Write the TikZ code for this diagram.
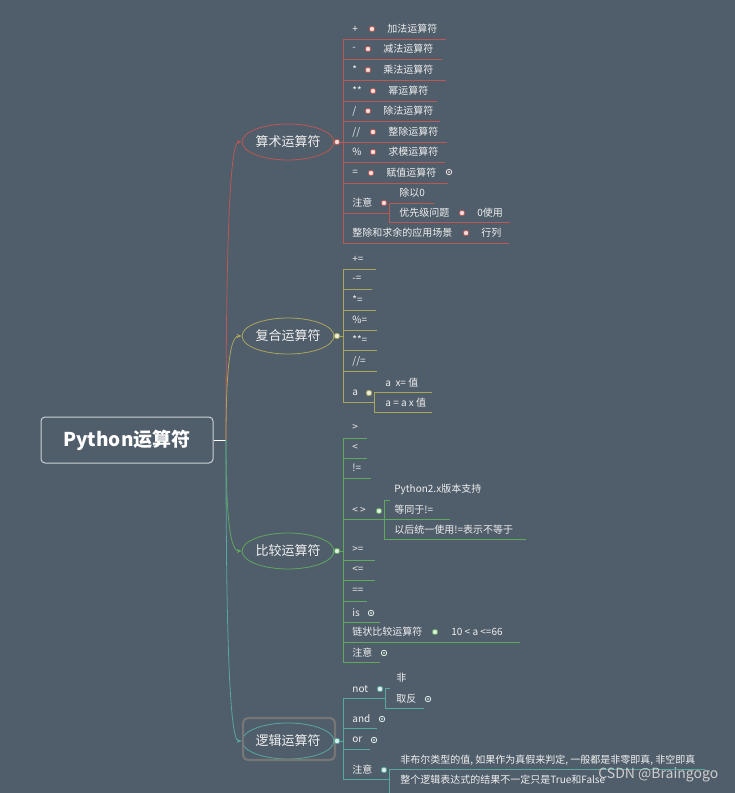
\documentclass[tikz,border=0pt]{standalone}
\usepackage{fontspec}
\setmainfont{Noto Sans CJK SC}
\usetikzlibrary{arrows.meta,shapes.geometric}
\definecolor{bg}{RGB}{80,93,106}
\definecolor{arith}{RGB}{186,88,84}
\definecolor{comp}{RGB}{168,166,92}
\definecolor{cmpr}{RGB}{96,168,96}
\definecolor{logic}{RGB}{88,168,158}
\definecolor{txt}{RGB}{240,240,240}
\definecolor{rootc}{RGB}{205,210,215}
\definecolor{selc}{RGB}{118,118,118}
\definecolor{wm}{RGB}{205,205,205}
\begin{document}
\begin{tikzpicture}[x=1pt,y=-1pt,line width=.8pt,
  leaf/.style={anchor=west,inner sep=0pt,text=txt,font=\fontsize{10}{12}\selectfont},
  dot/.style={circle,draw=#1,fill=white!80!#1,minimum size=5.5pt,inner sep=0pt},
  fold/.style={circle,draw=white!80!#1,fill=bg,minimum size=5.5pt,inner sep=0pt,
    path picture={\fill[white] (path picture bounding box.center) circle (.9pt);}},
  topic/.style={ellipse,draw=#1,minimum width=86pt,minimum height=36pt,inner sep=0pt,
    text=txt,font=\fontsize{13}{15}\selectfont},
  link/.style={draw=#1,-{Stealth[length=5pt,width=4pt]}}]
\fill[bg](0,0)rectangle(735,793);
\useasboundingbox(0,0)rectangle(735,793);
% root and main topics
\node[draw=rootc,rounded corners=4pt,minimum width=172pt,minimum height=46pt,text=white,
  font=\fontsize{19}{21}\selectfont\bfseries,line width=1pt](root)at(127,440){Python运算符};
\coordinate(hub)at(226,440);
\draw[white](root.east)--(hub);
\node[topic=arith](ar)at(288,142){算术运算符};
\node[topic=comp](co)at(288,336){复合运算符};
\node[topic=cmpr](cm)at(288,551){比较运算符};
\node[topic=logic](lo)at(288,741){逻辑运算符};
\draw[selc,line width=2.2pt,rounded corners=5pt](243,718)rectangle(335,760);
\foreach\t/\c/\y in{ar/arith/142,co/comp/336,cm/cmpr/551,lo/logic/741}{
  \draw[link=\c](hub)..controls(226,{(440+\y)/2})and(228,\y)..(\t.west);
  \node[dot=\c](\t-d)at(337,\y){};
  \draw[draw=\c](\t-d.east)--(343,\y);}
% arithmetic
\draw[arith](343,39)--(343,243);
\foreach\i/\lab/\uy/\dx/\sub/\ex in{1/+/39/372/加法运算符/446,2/-/59/368/减法运算符/442,
  3/*/80/368/乘法运算符/446,4/**/101/373/幂运算符/437,5/{/}/121/368/除法运算符/440,
  6/{//}/142/373/整除运算符/447,7/\%/162/373/求模运算符/445,8/=/183/371/赋值运算符/448}{
  \node[leaf](a\i)at(352,\uy-10){\lab};
  \node[dot=arith](a\i-d)at(\dx,\uy-10){};
  \node[leaf](a\i-s)at(\dx+15,\uy-10){\sub};
  \draw[arith](343,\uy)--(\ex,\uy);}
\node[fold=arith](a8-f)at(449,172){};
\node[leaf](a9)at(352,203){注意};
\node[dot=arith](a9-d)at(384,203){};
\draw[arith](343,213)--(389,213) (389,203)--(389,222) (389,203)--(434,203) (389,222)--(510,222);
\node[leaf](a9-a)at(399,193){除以0};
\node[leaf](a9-b)at(399,213){优先级问题};
\node[dot=arith](a9-bd)at(462,213){};
\node[leaf](a9-c)at(477,213){0使用};
\node[leaf](a10)at(352,233){整除和求余的应用场景};
\node[dot=arith](a10-d)at(466,233){};
\node[leaf](a10-s)at(481,233){行列};
\draw[arith](343,243)--(509,243);
% compound
\draw[comp](343,269)--(343,402);
\foreach\i/\lab/\uy/\ex in{1/+=/269/376,2/-=/289/372,3/*=/310/376,4/\%=/330/377,
  5/**=/350/377,6/{//=}/371/377}{
  \node[leaf](c\i)at(352,\uy-10){\lab};
  \draw[comp](343,\uy)--(\ex,\uy);}
\node[leaf](c7)at(352,393){a};
\node[dot=comp](c7-d)at(369,393){};
\draw[comp](343,402)--(374,402) (374,392)--(374,412) (374,392)--(432,392) (374,412)--(432,412);
\node[leaf](c7-a)at(385,383){a~ x= 值};
\node[leaf](c7-b)at(385,403){a = a x 值};
% comparison
\draw[cmpr](343,438)--(343,662);
\foreach\i/\lab/\uy/\ex in{1/>/438/367,2/</458/367,3/!=/478/371,5/>=/560/375,
  6/<=/580/375,7/==/601/367}{
  \node[leaf](p\i)at(352,\uy-10){\lab};
  \draw[cmpr](343,\uy)--(\ex,\uy);}
\node[leaf](p4)at(352,511){< >};
\node[dot=cmpr](p4-d)at(379,511){};
\draw[cmpr](343,519)--(450,519) (384,500)--(384,539) (384,500)--(390,500) (384,539)--(526,539);
\node[leaf](p4-a)at(394,489){Python2.x版本支持};
\node[leaf](p4-b)at(394,510){等同于!=};
\node[leaf](p4-c)at(394,530){以后统一使用!=表示不等于};
\node[leaf](p8)at(352,613){is};
\node[fold=cmpr](p8-f)at(371,613){};
\draw[cmpr](343,622)--(380,622);
\node[leaf](p9)at(352,632){链状比较运算符};
\node[dot=cmpr](p9-d)at(435,632){};
\node[leaf](p9-s)at(451,632){10 < a <=66};
\draw[cmpr](343,642)--(520,642);
\node[leaf](p10)at(352,653){注意};
\node[fold=cmpr](p10-f)at(384,653){};
\draw[cmpr](343,662)--(380,662);
% logic
\draw[logic](343,698)--(343,779);
\node[leaf](l1)at(352,689){not};
\node[dot=logic](l1-d)at(380,689){};
\draw[logic](343,698)--(385,698) (385,688)--(385,708) (385,688)--(390,688) (385,708)--(424,708);
\node[leaf](l1-a)at(396,678){非};
\node[leaf](l1-b)at(396,699){取反};
\node[fold=logic](l1-f)at(428,699){};
\node[leaf](l2)at(352,719){and};
\node[fold=logic](l2-f)at(382,719){};
\draw[logic](343,728)--(377,728);
\node[leaf](l3)at(352,740){or};
\node[fold=logic](l3-f)at(374,740){};
\draw[logic](343,749)--(370,749);
\node[leaf](l4)at(352,770){注意};
\node[dot=logic](l4-d)at(384,770){};
\draw[logic](343,779)--(389,779) (389,769)--(389,793) (389,769)--(705,769);
\node[leaf](l4-a)at(400,760){非布尔类型的值, 如果作为真假来判定, 一般都是非零即真, 非空即真};
\node[leaf](l4-b)at(400,780){整个逻辑表达式的结果不一定只是True和False};
\node[anchor=west,inner sep=0pt,text=wm,font=\fontsize{14}{16}\selectfont](mark)at(598,775){CSDN @Braingogo};
\end{tikzpicture}
\end{document}
